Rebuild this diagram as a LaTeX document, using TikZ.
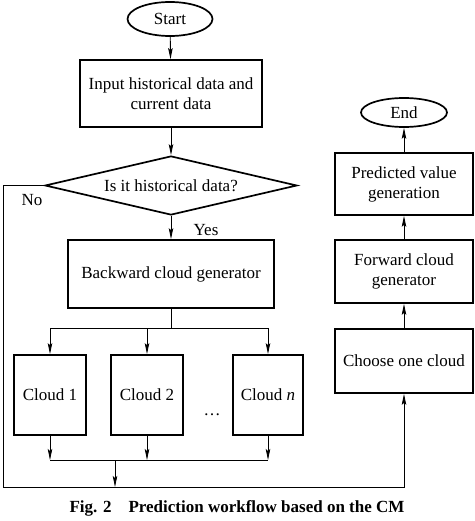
\documentclass[tikz,border=0pt]{standalone}
\usepackage{fontspec}
\setmainfont{Liberation Serif}
\usetikzlibrary{arrows.meta,shapes.geometric}

\tikzset{
  flowbox/.style={draw, line width=1.7pt, rectangle, inner sep=0pt, align=center},
  termbox/.style={draw, line width=1.7pt, ellipse, inner sep=0pt},
  askbox/.style={draw, line width=1.7pt, diamond, inner sep=0pt, shape aspect=4.27},
  flow/.style={line width=0.9pt, -{Stealth[length=11pt,width=4.5pt,inset=2pt]}},
  plain/.style={line width=0.9pt}
}

\begin{document}
\begin{tikzpicture}[x=1pt, y=-1pt, font=\fontsize{17}{20}\selectfont]
  \useasboundingbox (0,0) rectangle (474,521);

  %------ left column
  \node[termbox, minimum width=85pt, minimum height=34pt] (start) at (170,19) {Start};
  \node[flowbox, minimum width=182pt, minimum height=67pt] (input) at (171,93.5)
    {Input historical data and\\current data};
  \node[askbox, minimum width=252pt, minimum height=59pt] (ishist) at (171,185.5)
    {Is it historical data?};
  \node[flowbox, minimum width=206pt, minimum height=68pt] (backward) at (171,274)
    {Backward cloud generator};

  \draw[flow] (start) -- (input);
  \draw[flow] (input) -- (ishist);
  \draw[flow] (ishist) -- (backward);
  \node (yes) at (206,230) {Yes};
  \node (no) at (32,200) {No};

  %------ clouds
  \node[flowbox, minimum width=72pt, minimum height=80pt] (cloudA) at (50,395) {Cloud 1};
  \node[flowbox, minimum width=72pt, minimum height=80pt] (cloudB) at (147,395) {Cloud 2};
  \node[flowbox, minimum width=70pt, minimum height=80pt] (cloudN) at (268,395) {Cloud \textit{n}};
  \node (dots) at (212,415) {\dots};

  \coordinate (split) at (171,328);
  \coordinate (merge) at (115,460);
  \coordinate (loop) at (3,487);

  \draw[plain] (backward) -- (split);
  \draw[plain] (cloudA |- split) -- (cloudN |- split);
  \draw[flow] (cloudA |- split) -- (cloudA);
  \draw[flow] (cloudB |- split) -- (cloudB);
  \draw[flow] (cloudN |- split) -- (cloudN);

  \draw[flow] (cloudA) -- (cloudA |- merge);
  \draw[flow] (cloudB) -- (cloudB |- merge);
  \draw[flow] (cloudN) -- (cloudN |- merge);
  \draw[plain] (cloudA |- merge) -- (cloudN |- merge);
  \draw[flow] (merge) -- (merge |- loop);

  %------ right column
  \node[termbox, minimum width=86pt, minimum height=29pt] (finish) at (404,112.5) {End};
  \node[flowbox, minimum width=138pt, minimum height=62pt] (predict) at (404,184)
    {Predicted value\\generation};
  \node[flowbox, minimum width=138pt, minimum height=63pt] (forward) at (404,271.5)
    {Forward cloud\\generator};
  \node[flowbox, minimum width=138pt, minimum height=64pt] (choose) at (404,361)
    {Choose one cloud};

  \draw[flow] (choose) -- (forward);
  \draw[flow] (forward) -- (predict);
  \draw[flow] (predict) -- (finish);

  %------ no branch
  \draw[flow] (ishist.west) -| (loop) -| (choose.south);

  \node[font=\fontsize{17}{20}\selectfont\bfseries] (caption) at (237,508)
    {Fig. 2\quad Prediction workflow based on the CM};
\end{tikzpicture}
\end{document}
